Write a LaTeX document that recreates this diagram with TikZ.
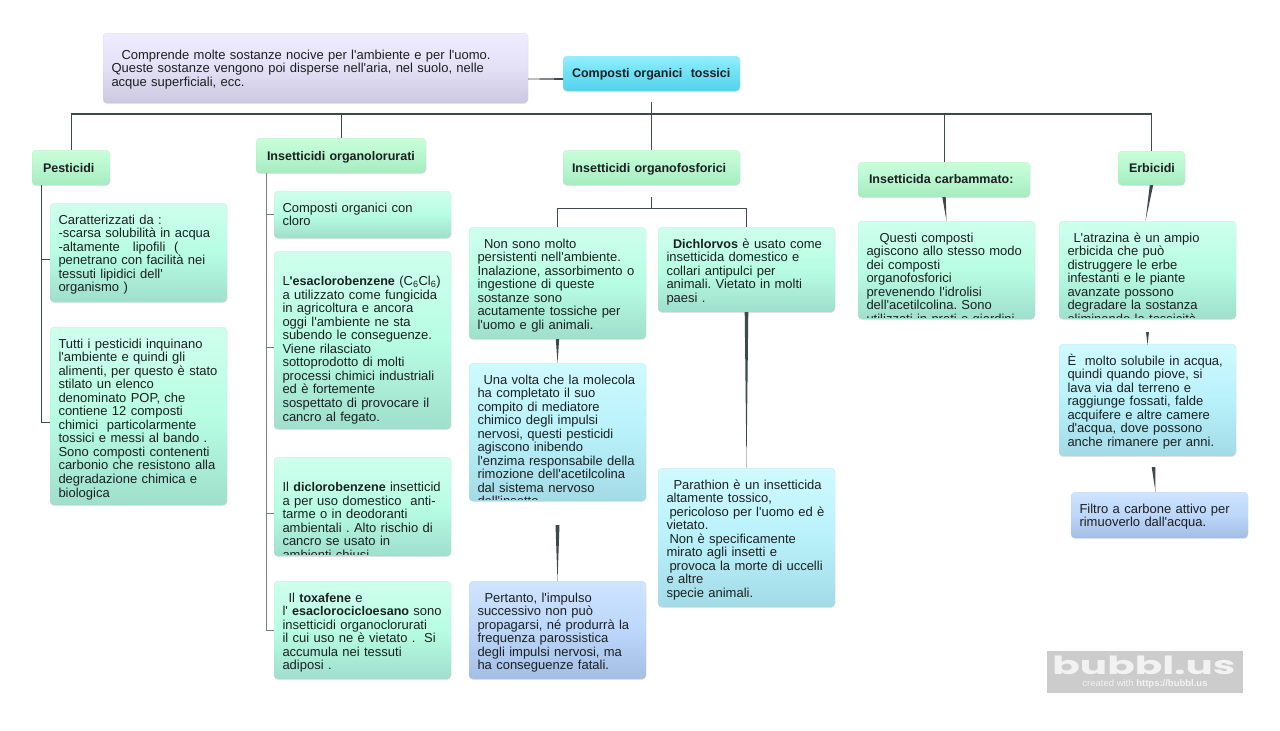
\documentclass[tikz,border=0pt]{standalone}
\usepackage{fontspec}
\newfontfamily\boxfont{Liberation Sans}
\newfontfamily\logofont{Poppins}
\usetikzlibrary{shadows}

\definecolor{wirecol}{HTML}{3C4A4C}
\definecolor{inkcol}{HTML}{1C1F20}
\definecolor{gtop}{HTML}{CFFFEE}\definecolor{gbot}{HTML}{9FDFCB}\definecolor{gmid}{HTML}{B7FDE4}
\definecolor{ctop}{HTML}{CFFAFF}\definecolor{cbot}{HTML}{A2DBE6}\definecolor{cmid}{HTML}{B9F1FB}
\definecolor{dtop}{HTML}{CFE4FF}\definecolor{dbot}{HTML}{A3BDE4}\definecolor{dmid}{HTML}{BCD7FA}
\definecolor{ntop}{HTML}{EFECFF}\definecolor{nbot}{HTML}{CBC8DF}\definecolor{nmid}{HTML}{E4E0F6}
\definecolor{htop}{HTML}{C9FFD9}\definecolor{hbot}{HTML}{A6EBC0}\definecolor{hmid}{HTML}{B7F6CF}
\definecolor{rtop}{HTML}{93EFFF}\definecolor{rbot}{HTML}{54D3EC}\definecolor{rmid}{HTML}{6FE0F5}

\newcommand{\taper}[3]{\fill[wirecol] ([xshift=-#3pt]#1) -- ([xshift=#3pt]#1) -- (#2) -- cycle;}
\newcommand{\bd}[1]{{\bfseries\fontsize{12.6}{13.55}\selectfont #1}}
\newcommand{\cliptext}[1]{\clip (path picture bounding box.north west) rectangle ([yshift=2pt]path picture bounding box.south east);
  \node[boxtext] at (path picture bounding box.north west) {#1};}

\begin{document}
\begin{tikzpicture}[x=1pt,y=-1pt]
      \tikzset { box/.style = { shape=rectangle,rounded corners=4pt,anchor=north west,inner xsep=8.5pt,inner ysep=0pt,outer sep=0pt,
          align=left,text=inkcol,font=\boxfont\frenchspacing\fontsize{13}{13.55}\selectfont,text height=21pt,
          draw=black!20,draw opacity=0.35,line width=0.5pt,
          drop shadow={opacity=0.18,shadow xshift=0pt,shadow yshift=-1pt} } }
      \tikzset { boxsize/.style 2 args = { text width=#1pt-17pt,text depth=#2pt-21pt } }
      \tikzset { greenbox/.style = { box,top color=gtop,bottom color=gbot,middle color=gmid } }
      \tikzset { bluebox/.style = { box,top color=ctop,bottom color=cbot,middle color=cmid } }
      \tikzset { deepbox/.style = { box,top color=dtop,bottom color=dbot,middle color=dmid } }
      \tikzset { notebox/.style = { box,top color=ntop,bottom color=nbot,middle color=nmid,text height=26pt } }
      \tikzset { headbox/.style = { box,inner xsep=11pt,text height=22pt,text depth=13pt,font=\boxfont\bfseries\fontsize{12.5}{13.55}\selectfont,
          top color=htop,bottom color=hbot,middle color=hmid } }
      \tikzset { headsize/.style = { text width=#1pt-22pt } }
      \tikzset { boxtext/.style = { anchor=north west,inner xsep=8.5pt,inner ysep=0pt,align=left,text=inkcol,
          font=\boxfont\frenchspacing\fontsize{13}{13.55}\selectfont,text height=21pt,text width=160pt } }
      \tikzset { bus/.style = { draw=wirecol,line width=1.6pt } }
      \tikzset { drop/.style = { draw=wirecol,line width=0.8pt } }
      \tikzset { trunk/.style = { draw=wirecol!70,line width=1pt } }

      \useasboundingbox (0,0) rectangle (1280,731);

      % top row
      \node[notebox,boxsize={425}{70},text depth=44pt] (note) at (103,33) {\hspace*{10pt}Comprende molte sostanze nocive per l'ambiente e per l'uomo.\\Queste sostanze vengono poi disperse nell'aria, nel suolo, nelle\\acque superficiali, ecc.};
      \node[headbox,headsize=177,top color=rtop,bottom color=rbot,middle color=rmid,text height=21pt,text depth=14pt] (root) at (563,56) {\mbox{\hspace*{-2pt}Composti organici\ \ tossici}};

      % column heads
      \node[headbox,headsize=78] (pest) at (32,150) {Pesticidi};
      \node[headbox,headsize=170] (orgcl) at (256,138) {\mbox{Insetticidi organolorurati}};
      \node[headbox,headsize=177] (orgfo) at (563,150) {\mbox{\hspace*{-2pt}Insetticidi organofosforici}};
      \node[headbox,headsize=172,text height=21pt,text depth=14pt] (carb) at (858,162) {\mbox{Insetticida carbammato:}};
      \node[headbox,headsize=67,text height=21pt,text depth=13pt] (erb) at (1118,151) {\mbox{Erbicidi}};

      % pesticidi
      \node[greenbox,boxsize={177}{99}] (pa) at (50,203) {Caratterizzati da :\\-scarsa solubilità in acqua\\-altamente\ \ \ lipofili\ \ (\\penetrano con facilità nei\\tessuti lipidici dell'\\organismo )};
      \node[greenbox,boxsize={177}{178}] (pb) at (50,327) {Tutti i pesticidi inquinano\\l'ambiente e quindi gli\\alimenti, per questo è stato\\stilato un elenco\\denominato POP, che\\contiene 12 composti\\chimici\ \ particolarmente\\tossici e messi al bando .\\Sono composti contenenti\\carbonio che resistono alla\\degradazione chimica e\\biologica};

      % organoclorurati
      \node[greenbox,boxsize={177}{47}] (ca) at (274,191) {Composti organici con\\cloro};
      \node[greenbox,boxsize={177}{178}] (cb) at (274,251) {\strut\\L\bd{'esaclorobenzene} (C\textsubscript{6}Cl\textsubscript{6})\\a utilizzato come fungicida\\in agricoltura e ancora\\oggi l'ambiente ne sta\\subendo le conseguenze.\\Viene rilasciato\\sottoprodotto di molti\\processi chimici industriali\\ed è fortemente\\sospettato di provocare il\\cancro al fegato.};
      \node[greenbox,boxsize={177}{99},path picture={\cliptext{\strut\\\mbox{Il \bd{diclorobenzene} insetticid}\\a per uso domestico\ \ anti-\\tarme o in deodoranti\\ambientali . Alto rischio di\\cancro se usato in\\ambienti chiusi}}] (cc) at (274,457) {};
      \node[greenbox,boxsize={177}{98}] (cd) at (274,581) {\hspace*{6pt}Il \bd{toxafene} e\\\mbox{l' \bd{esaclorocicloesano} sono}\\insetticidi organoclorurati\\il cui uso ne è vietato .\ \ Si\\accumula nei tessuti\\adiposi .};

      % organofosforici
      \node[greenbox,boxsize={177}{112}] (fa) at (469,227) {\hspace*{6.5pt}Non sono molto\\persistenti nell'ambiente.\\\mbox{Inalazione, assorbimento o}\\ingestione di queste\\sostanze sono\\acutamente tossiche per\\l'uomo e gli animali.};
      \node[greenbox,boxsize={177}{85}] (fb) at (658,227) {\hspace*{6.5pt}\bd{Dichlorvos} è usato come\\insetticida domestico e\\collari antipulci per\\animali. Vietato in molti\\paesi .};
      \node[bluebox,boxsize={177}{138},path picture={\cliptext{\mbox{\hspace*{6pt}Una volta che la molecola}\\ha completato il suo\\compito di mediatore\\chimico degli impulsi\\nervosi, questi pesticidi\\agiscono inibendo\\\mbox{l'enzima responsabile della}\\rimozione dell'acetilcolina\\dal sistema nervoso\\dell'insetto}}] (fc) at (469,363) {};
      \node[deepbox,boxsize={177}{98}] (fd) at (469,581) {\hspace*{7pt}Pertanto, l'impulso\\successivo non può\\propagarsi, né produrrà la\\frequenza parossistica\\degli impulsi nervosi, ma\\ha conseguenze fatali.};
      \node[bluebox,boxsize={177}{139}] (fe) at (658,468) {\mbox{\hspace*{7pt}Parathion è un insetticida}\\altamente tossico,\\\mbox{\hspace*{3pt}pericoloso per l'uomo ed è}\\vietato.\\\hspace*{3pt}Non è specificamente\\mirato agli insetti e\\\mbox{\hspace*{3pt}provoca la morte di uccelli}\\e altre\\specie animali.};

      % carbammato ed erbicidi
      \node[greenbox,boxsize={177}{98},path picture={\cliptext{\hspace*{13pt}Questi composti\\\mbox{agiscono allo stesso modo}\\dei composti\\organofosforici\\prevenendo l'idrolisi\\dell'acetilcolina. Sono\\utilizzati in prati e giardini}}] (ka) at (858,221) {};
      \node[greenbox,boxsize={177}{98},path picture={\cliptext{\hspace*{6pt}L'atrazina è un ampio\\erbicida che può\\distruggere le erbe\\infestanti e le piante\\avanzate possono\\degradare la sostanza\\eliminando la tossicità}}] (ea) at (1059,221) {};
      \node[bluebox,boxsize={177}{112}] (eb) at (1059,344) {\mbox{È\ \ molto solubile in acqua,}\\quindi quando piove, si\\lava via dal terreno e\\raggiunge fossati, falde\\acquifere e altre camere\\d'acqua, dove possono\\anche rimanere per anni.};
      \node[deepbox,boxsize={177}{46}] (ec) at (1071,492) {\mbox{Filtro a carbone attivo per}\\rimuoverlo dall'acqua.};

      % main bus
      \coordinate (busl) at (71,114);
      \coordinate (busr) at (1151.5,114);
      \draw[bus] (busl) -- (busr);
      \draw[drop] (busl) -- (pest.north);
      \draw[drop] (orgcl.north |- busl) -- (orgcl.north);
      \draw[drop] (carb.north |- busl) -- (carb.north);
      \draw[drop] (busr) -- (erb.north);
      \coordinate (rootfoot) at ([yshift=-11pt]root.south);
      \draw[drop] (rootfoot) -- (orgfo.north);
      \coordinate (noteout) at (528,79);
      \coordinate (rootin) at (563,79);
      \fill[wirecol] ([yshift=-0.3pt]noteout) -- ([yshift=0.3pt]noteout) -- ([yshift=0.9pt]rootin) -- ([yshift=-0.9pt]rootin) -- cycle;

      % side trunks
      \coordinate (ptop) at (41.5,185);
      \coordinate (ctoptr) at (266,173);
      \draw[trunk,draw=wirecol] (ptop) |- ([yshift=-6pt]pb.west);
      \draw[trunk,draw=wirecol] (ptop |- 0,259) -- ([yshift=-6.5pt]pa.west);
      \draw[trunk] (ctoptr) |- (cd.west);
      \draw[trunk] (ctoptr |- ca.west) -- (ca.west);
      \draw[trunk] (266,347) -- ([yshift=-7pt]cb.west);
      \draw[trunk] (266,513) -- ([yshift=-6.5pt]cc.west);

      % fork under organofosforici
      \coordinate (forktop) at (651.5,197);
      \coordinate (forkmid) at (651.5,208.5);
      \draw[drop,line width=1pt] (forktop) -- (forkmid);
      \draw[drop,line width=1pt] (fa.north) |- (forkmid) -| (fb.north);

      % tapered links
      \coordinate (fcfoot) at ([yshift=-24pt]fc.south);
      \coordinate (eahead) at ([xshift=-2pt]ea.north);
      \coordinate (eafoot) at ([yshift=-13pt]ea.south);
      \coordinate (ebhead) at ([yshift=-1pt]eb.north);
      \coordinate (ebfoot) at ([xshift=6pt,yshift=-11pt]eb.south);
      \coordinate (echead) at ([xshift=-4pt]ec.north);
      \taper{fa.south}{fc.north}{1.7}
      \taper{fcfoot}{fd.north}{2}
      \taper{fb.south}{fe.north}{1.8}
      \taper{carb.south}{ka.north}{1.7}
      \taper{erb.south}{eahead}{1.7}
      \taper{eafoot}{ebhead}{1.5}
      \taper{ebfoot}{echead}{1.8}

      % watermark
      \node[fill=black!20,minimum width=196pt,minimum height=42pt,inner sep=0pt] (mark) at (1145,672) {};
      \node[text=white!95!black,font=\logofont\bfseries\fontsize{25}{25}\selectfont,inner sep=0pt,xscale=1.62] (marktitle) at (1144,665.5) {bubbl.us};
      \node[text=white!95!black,font=\boxfont\fontsize{9.5}{10}\selectfont,inner sep=0pt] (markurl) at (1145,684.5) {created with \textbf{https://bubbl.us}};

    \end{tikzpicture}
\end{document}
